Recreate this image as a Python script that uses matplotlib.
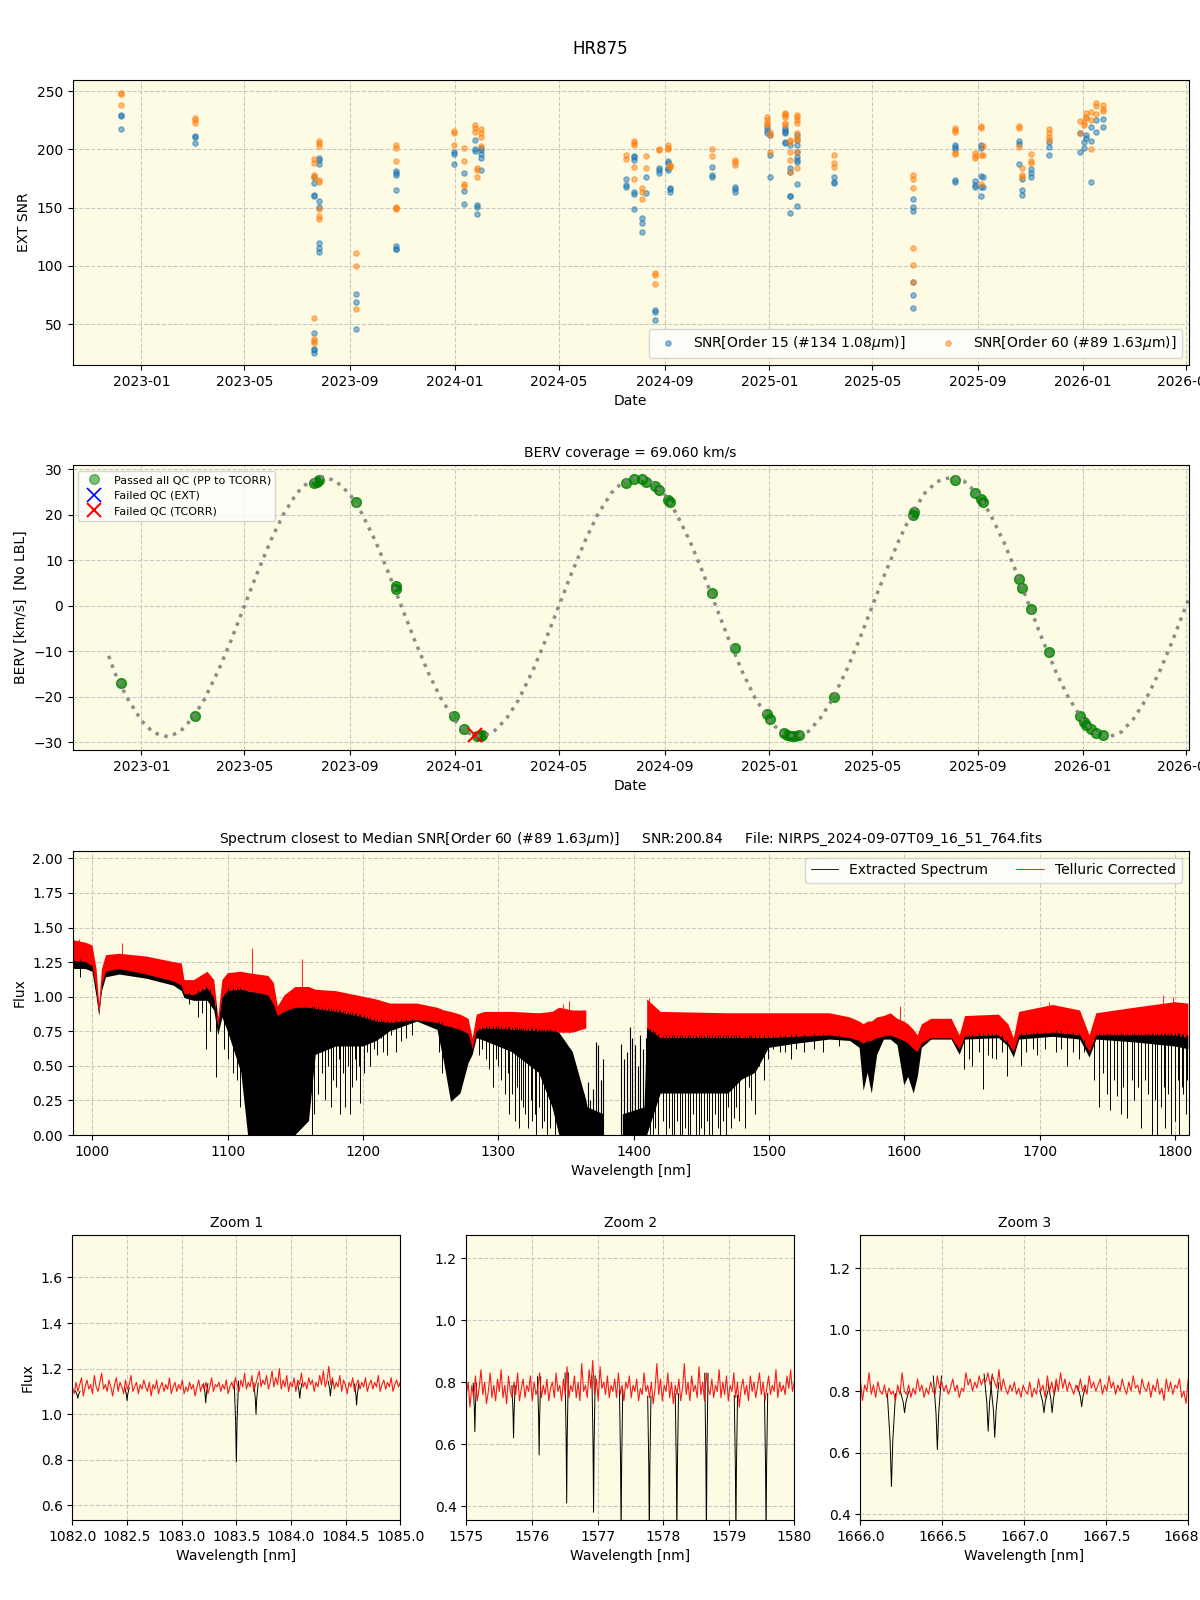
import numpy as np
import pandas as pd
import matplotlib
matplotlib.use('Agg')
import matplotlib.pyplot as plt
import matplotlib.dates as mdates
from matplotlib.lines import Line2D
from matplotlib.ticker import MultipleLocator

# ---------------- SNR per night ----------------
snr_nights = ['2022-12-08', '2023-03-05', '2023-07-21', '2023-07-27', '2023-09-08', '2023-10-25',
              '2023-12-31', '2024-01-12', '2024-01-24', '2024-01-27', '2024-01-31', '2024-07-18',
              '2024-07-28', '2024-08-06', '2024-08-10', '2024-08-21', '2024-08-25', '2024-09-05',
              '2024-09-07', '2024-10-26', '2024-11-22', '2024-12-29', '2025-01-02', '2025-01-19',
              '2025-01-25', '2025-02-02', '2025-03-17', '2025-06-17', '2025-08-05', '2025-08-28',
              '2025-09-04', '2025-09-07', '2025-10-19', '2025-10-22', '2025-11-01', '2025-11-23',
              '2025-12-29', '2026-01-02', '2026-01-04', '2026-01-10', '2026-01-16', '2026-01-24']

snr_o15 = [[229.4, 228.6, 217.1], [211.1, 210.4, 205.1],
           [175.9, 170.8, 160.5, 159.9, 42.0, 28.8, 25.4, 28.0],
           [192.5, 190.8, 187.3, 155.6, 150.7, 119.5, 115.2, 111.5],
           [76.3, 68.6, 45.5], [181.3, 179.3, 178.2, 164.7, 116.9, 114.9, 114.1],
           [197.9, 195.9, 187.1], [179.3, 163.9, 152.7], [207.7, 200.2, 198.5],
           [152.2, 150.7, 144.1], [201.4, 199.4, 195.6, 192.2, 182.2], [174.2, 169.3, 167.3],
           [194.2, 193.1, 190.8, 163.6, 161.6, 148.4], [141.0, 136.4, 129.5], [175.9, 162.2],
           [62.0, 60.6, 54.0], [183.6, 182.2, 179.9], [190.2, 188.5, 183.6, 182.2],
           [166.5, 165.6, 163.0], [184.5, 177.9, 175.9], [167.3, 165.6, 163.6],
           [219.4, 216.5, 213.7], [212.2, 195.1, 176.5], [218.0, 216.5, 215.1, 213.7, 206.5, 205.1],
           [203.7, 184.2, 180.8, 160.2, 159.9, 145.0],
           [212.2, 207.9, 203.7, 197.9, 193.6, 190.8, 189.3, 169.9, 151.3],
           [176.5, 171.6, 171.3], [157.0, 150.7, 147.0, 86.4, 74.6, 64.3],
           [203.7, 201.7, 200.2, 173.6, 172.2], [172.8, 169.3, 167.9],
           [203.7, 201.4, 177.0, 167.9, 159.9], [176.5, 167.3], [207.1, 204.5, 187.1],
           [174.2, 165.0, 160.5], [182.8, 179.3, 176.5], [206.5, 201.7, 194.8],
           [197.9, 213.7], [206.5, 200.8], [212.2, 209.4], [219.4, 207.1, 172.2],
           [225.1, 214.8], [226.0, 219.4]]

snr_o60 = [[248.6, 247.4, 237.7], [226.5, 225.1, 222.2],
           [191.3, 187.9, 177.6, 175.9, 55.7, 37.4, 35.7, 34.0],
           [207.1, 205.7, 202.8, 173.6, 171.9, 148.4, 143.0, 140.4],
           [110.7, 99.5, 62.6], [203.4, 201.1, 189.6, 150.7, 149.6, 148.4],
           [215.7, 214.2, 203.4], [200.8, 189.6, 169.9, 168.7], [220.8, 218.0, 214.8],
           [183.6, 182.2, 176.5], [217.4, 214.2, 210.8, 202.5], [194.8, 191.3],
           [207.1, 205.7, 203.7, 185.1, 174.5], [166.5, 163.0, 157.0], [194.2, 183.6],
           [93.5, 92.1, 84.1], [200.2, 199.4], [203.9, 201.4, 200.5],
           [186.8, 185.6, 184.5], [199.9, 194.2], [190.8, 189.3, 186.5],
           [227.4, 225.1, 222.8, 220.8], [215.1, 212.2, 197.9],
           [230.8, 230.0, 229.4, 228.0, 222.2, 220.8], [207.9, 206.5, 197.9, 190.8, 180.8],
           [229.4, 228.0, 225.1, 222.2, 213.7, 209.4, 207.9, 197.9, 183.6],
           [194.8, 188.5, 185.1], [177.9, 174.2, 166.5, 115.0, 100.4, 86.4],
           [218.0, 216.5, 215.1, 197.1, 196.0], [196.5, 194.2, 192.2],
           [220.0, 218.0, 195.1, 170.2], [202.8, 195.1], [220.0, 218.0, 202.2],
           [184.2, 177.9, 176.5], [195.6, 190.2, 187.9], [217.1, 213.7, 210.8, 207.9],
           [224.5, 213.7], [222.2, 220.8], [230.8, 228.0, 226.5], [232.3, 199.9, 225.1],
           [239.4, 237.1, 229.9], [238.0, 234.3, 232.6]]

# ---------------- BERV ----------------
berv_dates = ['2022-12-08', '2023-03-05', '2023-07-21', '2023-07-24', '2023-07-27', '2023-09-08',
              '2023-10-25', '2023-10-25', '2023-12-31', '2024-01-12', '2024-01-27', '2024-01-31',
              '2024-02-02', '2024-07-18', '2024-07-28', '2024-08-06', '2024-08-10', '2024-08-21',
              '2024-08-25', '2024-09-05', '2024-09-07', '2024-10-26', '2024-11-22', '2024-12-29',
              '2025-01-02', '2025-01-18', '2025-01-22', '2025-01-26', '2025-01-31', '2025-02-04',
              '2025-03-17', '2025-06-17', '2025-06-18', '2025-08-05', '2025-08-28', '2025-09-04',
              '2025-09-07', '2025-10-19', '2025-10-22', '2025-11-01', '2025-11-23', '2025-12-29',
              '2026-01-02', '2026-01-04', '2026-01-10', '2026-01-16', '2026-01-24']
berv_vals = [-17.0, -24.2, 27.0, 27.3, 27.6, 22.8, 4.4, 3.6, -24.2, -27.1, -28.6, -28.6, -28.5,
             26.9, 27.8, 27.8, 27.3, 26.3, 25.5, 23.3, 22.8, 2.9, -9.3, -23.8, -24.9, -28.0,
             -28.4, -28.6, -28.7, -28.5, -20.1, 20.0, 20.7, 27.6, 24.7, 23.4, 22.8, 5.8, 3.9,
             -0.7, -10.1, -24.2, -25.5, -26.2, -27.1, -27.9, -28.5]
fail_tcorr_dates = ['2024-01-24']
fail_tcorr_vals = [-28.4]

# BERV curve, one year of knots
curve_md = ['01-01', '01-15', '02-01', '02-15', '03-01', '03-15', '04-01', '04-15',
            '05-01', '05-15', '06-01', '06-15', '07-01', '07-15', '08-01', '08-15',
            '09-01', '09-15', '10-01', '10-15', '11-01', '11-15', '12-01', '12-15']
curve_year = [-25.2, -27.9, -28.8, -27.7, -24.8, -20.7, -14.1, -7.8, 0.0, 6.8, 14.5, 20.0,
              24.8, 27.3, 28.3, 27.5, 24.5, 20.2, 14.0, 7.6, -0.7, -7.5, -14.7, -20.1]
curve_start = ('2022-11-24', -11.0)
curve_end = ('2026-05-04', 1.4)

# ---------------- spectrum envelope knots ----------------
spec_wl = [985, 995, 1000, 1003, 1005, 1007, 1010, 1020, 1040, 1060, 1066, 1068, 1075, 1085, 1090,
           1093, 1096, 1100, 1110, 1115, 1130, 1134, 1137, 1142, 1150, 1160, 1165, 1180, 1200, 1210,
           1220, 1240, 1255, 1260, 1265, 1272, 1278, 1281, 1284, 1290, 1310, 1330, 1340, 1345, 1355,
           1365, 1366, 1378, 1379, 1391, 1392, 1408, 1410, 1420, 1470, 1480, 1490, 1500, 1520, 1545,
           1560, 1567, 1570, 1573, 1576, 1580, 1585, 1590, 1595, 1600, 1603, 1607, 1610, 1613, 1620,
           1635, 1641, 1645, 1670, 1677, 1681, 1685, 1710, 1730, 1737, 1742, 1770, 1800, 1810]
nan = np.nan
red_hi = [1.41, 1.39, 1.37, 1.20, 0.95, 1.20, 1.30, 1.31, 1.29, 1.25, 1.24, 1.12, 1.12, 1.18, 1.12,
          0.85, 1.12, 1.17, 1.18, 1.17, 1.15, 1.10, 0.93, 1.01, 1.07, 1.07, 1.05, 1.04, 1.00, 0.98,
          0.95, 0.95, 0.92, 0.90, 0.89, 0.87, 0.84, 0.70, 0.87, 0.89, 0.89, 0.88, 0.89, 0.92, 0.90,
          0.90, nan, nan, nan, nan, nan, nan, 0.98, 0.89, 0.88, 0.88, 0.88, 0.88, 0.88, 0.88,
          0.85, 0.82, 0.80, 0.82, 0.82, 0.85, 0.86, 0.88, 0.84, 0.82, 0.80, 0.76, 0.72, 0.80, 0.84,
          0.84, 0.72, 0.86, 0.87, 0.80, 0.70, 0.89, 0.94, 0.90, 0.72, 0.88, 0.92, 0.96, 0.95]
red_lo = [1.26, 1.25, 1.22, 1.05, 0.88, 1.08, 1.18, 1.20, 1.16, 1.11, 1.08, 1.02, 1.01, 1.06, 0.99,
          0.78, 0.99, 1.04, 1.05, 1.04, 1.01, 0.94, 0.86, 0.89, 0.92, 0.92, 0.91, 0.89, 0.85, 0.82,
          0.81, 0.83, 0.81, 0.79, 0.78, 0.76, 0.73, 0.62, 0.75, 0.77, 0.76, 0.75, 0.75, 0.74, 0.74,
          0.77, nan, nan, nan, nan, nan, nan, 0.77, 0.70, 0.70, 0.70, 0.70, 0.70, 0.71, 0.72,
          0.70, 0.68, 0.66, 0.68, 0.68, 0.70, 0.71, 0.72, 0.70, 0.68, 0.66, 0.62, 0.60, 0.66, 0.70,
          0.70, 0.62, 0.71, 0.72, 0.66, 0.60, 0.72, 0.74, 0.72, 0.60, 0.72, 0.72, 0.72, 0.70]
blk_hi = [1.28, 1.27, 1.24, 1.07, 0.90, 1.10, 1.20, 1.22, 1.18, 1.13, 1.10, 1.04, 1.03, 1.08, 1.01,
          0.80, 1.01, 1.06, 1.07, 1.04, 1.02, 0.96, 0.88, 0.91, 0.94, 0.94, 0.93, 0.91, 0.87, 0.84,
          0.83, 0.85, 0.83, 0.81, 0.80, 0.78, 0.75, 0.64, 0.77, 0.79, 0.78, 0.77, 0.77, 0.74, 0.60,
          0.25, 0.20, 0.15, nan, nan, 0.15, 0.20, 0.78, 0.72, 0.72, 0.72, 0.72, 0.72, 0.73, 0.74,
          0.72, 0.70, 0.68, 0.70, 0.70, 0.72, 0.73, 0.74, 0.72, 0.70, 0.68, 0.64, 0.62, 0.68, 0.72,
          0.72, 0.64, 0.73, 0.74, 0.68, 0.62, 0.74, 0.76, 0.74, 0.62, 0.74, 0.74, 0.74, 0.72]
blk_lo = [1.20, 1.20, 1.18, 1.00, 0.86, 1.04, 1.14, 1.16, 1.13, 1.08, 1.04, 0.99, 0.97, 0.97, 0.90,
          0.72, 0.85, 0.75, 0.45, 0.00, 0.00, 0.00, 0.00, 0.00, 0.00, 0.10, 0.58, 0.64, 0.64, 0.68,
          0.75, 0.82, 0.76, 0.52, 0.24, 0.30, 0.52, 0.58, 0.70, 0.68, 0.60, 0.45, 0.20, 0.00, 0.00,
          0.00, 0.00, 0.00, nan, nan, 0.00, 0.00, 0.00, 0.30, 0.30, 0.40, 0.45, 0.63, 0.66, 0.69,
          0.68, 0.63, 0.32, 0.45, 0.30, 0.58, 0.69, 0.69, 0.65, 0.36, 0.42, 0.30, 0.42, 0.63, 0.69,
          0.69, 0.58, 0.69, 0.70, 0.64, 0.56, 0.69, 0.71, 0.69, 0.56, 0.69, 0.67, 0.64, 0.62]

# upward spikes of the corrected spectrum
red_spike_wl = [990, 1022, 1118, 1155, 1348, 1352, 1411, 1597, 1707, 1791, 1799]
red_spike_hi = [1.42, 1.39, 1.35, 1.27, 0.95, 0.97, 0.99, 0.93, 0.96, 1.01, 1.00]

# extracted spectrum in the gaps of the corrected one
blk_up_wl = [1347, 1350, 1353, 1356, 1358, 1361, 1363, 1366, 1368, 1370, 1372, 1374, 1376, 1377,
             1391, 1393, 1395, 1397, 1399, 1401, 1403, 1405, 1407, 1409]
blk_up_hi = [0.62, 0.55, 0.60, 0.50, 0.45, 0.35, 0.30, 0.38, 0.25, 0.33, 0.67, 0.65, 0.40, 0.55,
             0.66, 0.55, 0.60, 0.78, 0.70, 0.65, 0.50, 0.72, 0.62, 0.70]

# individual telluric / stellar lines in the extracted spectrum
line_wl = [991, 1071, 1078, 1081, 1084, 1087, 1091, 1097, 1100, 1104, 1107, 1109,
           1162, 1164, 1167, 1170, 1172, 1174, 1176, 1178, 1180, 1182, 1183, 1185, 1187, 1189, 1190,
           1192, 1194, 1195, 1197, 1198, 1201, 1203, 1205, 1208, 1210, 1213, 1215, 1218, 1221, 1224,
           1228, 1232, 1236, 1256, 1258,
           1286, 1288, 1291, 1293, 1296, 1298, 1300, 1302, 1305, 1307, 1308, 1310, 1312, 1314, 1315,
           1317, 1318, 1320, 1322, 1324, 1325, 1327, 1328, 1330, 1332, 1334, 1336, 1338, 1342,
           1412, 1414, 1416, 1418, 1422, 1424, 1426, 1428, 1430, 1432, 1434, 1436, 1438, 1440, 1442,
           1444, 1446, 1448, 1450, 1452, 1454, 1456, 1458, 1460, 1462, 1464, 1466, 1468, 1470, 1472,
           1474, 1476, 1478, 1482, 1485, 1487, 1490, 1493, 1496, 1499,
           1503, 1508, 1512, 1516, 1520, 1526, 1533, 1540, 1552,
           1644, 1648, 1650, 1655, 1658, 1662, 1665, 1668, 1672, 1676, 1686, 1690, 1695, 1698, 1704,
           1712, 1716, 1720, 1725, 1729, 1733, 1740, 1744, 1747, 1750, 1752, 1755, 1757, 1760, 1762,
           1765, 1768, 1770, 1773, 1775, 1778, 1780, 1783, 1785, 1787, 1790, 1792, 1793, 1795, 1797,
           1800, 1802, 1803, 1805, 1806, 1808, 1809]
line_lo = [1.14, 0.95, 0.85, 0.88, 0.62, 0.75, 0.42, 0.62, 0.55, 0.45, 0.40, 0.20,
           0.00, 0.15, 0.30, 0.45, 0.25, 0.50, 0.20, 0.40, 0.35, 0.55, 0.15, 0.45, 0.20, 0.50, 0.15,
           0.35, 0.55, 0.40, 0.50, 0.23, 0.45, 0.60, 0.50, 0.62, 0.58, 0.70, 0.60, 0.58, 0.72, 0.60,
           0.68, 0.70, 0.72, 0.60, 0.45,
           0.58, 0.62, 0.55, 0.48, 0.35, 0.55, 0.50, 0.40, 0.30, 0.45, 0.15, 0.30, 0.10, 0.35, 0.05,
           0.25, 0.20, 0.15, 0.05, 0.25, 0.10, 0.15, 0.00, 0.20, 0.05, 0.10, 0.00, 0.05, 0.00,
           0.00, 0.00, 0.05, 0.00, 0.10, 0.00, 0.05, 0.00, 0.00, 0.10, 0.00, 0.00, 0.05, 0.00, 0.00,
           0.15, 0.00, 0.00, 0.05, 0.00, 0.10, 0.00, 0.00, 0.15, 0.05, 0.00, 0.10, 0.00, 0.20, 0.05,
           0.12, 0.20, 0.10, 0.05, 0.35, 0.25, 0.15, 0.50, 0.40, 0.55,
           0.62, 0.60, 0.60, 0.55, 0.62, 0.60, 0.62, 0.60, 0.64,
           0.48, 0.55, 0.50, 0.60, 0.33, 0.58, 0.56, 0.55, 0.60, 0.43, 0.50, 0.60, 0.62, 0.58, 0.62,
           0.60, 0.62, 0.50, 0.60, 0.55, 0.60, 0.40, 0.20, 0.45, 0.30, 0.18, 0.40, 0.28, 0.15, 0.35,
           0.12, 0.40, 0.25, 0.35, 0.05, 0.40, 0.30, 0.00, 0.25, 0.00, 0.20, 0.35, 0.05, 0.30, 0.00,
           0.10, 0.40, 0.00, 0.35, 0.30, 0.15, 0.40]

# ---------------- zoom windows ----------------
zoom1_red = [1.12, 1.09, 1.14, 1.10, 1.13, 1.16, 1.08, 1.12, 1.15, 1.11, 1.13, 1.09, 1.17, 1.12, 1.10,
             1.14, 1.18, 1.11, 1.13, 1.10, 1.15, 1.12, 1.08, 1.13, 1.16, 1.10, 1.14, 1.12, 1.09, 1.15,
             1.11, 1.13, 1.17, 1.10, 1.12, 1.14, 1.09, 1.13, 1.11, 1.15, 1.12, 1.10, 1.14, 1.08, 1.13,
             1.11, 1.15, 1.09, 1.12, 1.14, 1.10, 1.13, 1.11, 1.16, 1.09, 1.12, 1.14, 1.10, 1.13, 1.11,
             1.15, 1.09, 1.12, 1.10, 1.14, 1.11, 1.13, 1.08, 1.12, 1.15, 1.10, 1.13, 1.11, 1.14, 1.09,
             1.12, 1.16, 1.10, 1.13, 1.12, 1.14, 1.10, 1.13, 1.11, 1.15, 1.09, 1.12, 1.14, 1.11, 1.16,
             1.13, 1.10, 1.15, 1.12, 1.18, 1.11, 1.14, 1.12, 1.17, 1.10, 1.13, 1.16, 1.19, 1.12, 1.15,
             1.13, 1.17, 1.11, 1.14, 1.19, 1.12, 1.16, 1.13, 1.20, 1.11, 1.15, 1.12, 1.17, 1.10, 1.14,
             1.12, 1.16, 1.10, 1.15, 1.13, 1.18, 1.12, 1.14, 1.11, 1.16, 1.13, 1.15, 1.10, 1.14, 1.12,
             1.17, 1.13, 1.19, 1.12, 1.15, 1.21, 1.13, 1.16, 1.11, 1.14, 1.12, 1.17, 1.10, 1.15, 1.13,
             1.09, 1.14, 1.12, 1.16, 1.10, 1.13, 1.15, 1.11, 1.14, 1.12, 1.16, 1.10, 1.13, 1.15, 1.11,
             1.14, 1.12, 1.17, 1.10, 1.13, 1.15, 1.11, 1.14, 1.12, 1.16, 1.10, 1.13, 1.15, 1.12, 1.14]
zoom1_lines = [1082.05, 1082.50, 1083.22, 1083.50, 1083.68, 1084.08, 1084.36, 1084.60]
zoom1_depth = [1.07, 1.06, 1.05, 0.79, 1.00, 1.07, 1.08, 1.04]

zoom2_red = [0.76, 0.80, 0.72, 0.79, 0.75, 0.82, 0.74, 0.78, 0.84, 0.76, 0.80, 0.73, 0.77, 0.83, 0.75,
             0.79, 0.74, 0.81, 0.77, 0.84, 0.75, 0.79, 0.73, 0.82, 0.77, 0.75, 0.80, 0.76, 0.83, 0.74,
             0.78, 0.81, 0.75, 0.79, 0.77, 0.82, 0.74, 0.80, 0.76, 0.78, 0.83, 0.75, 0.79, 0.76, 0.81,
             0.74, 0.78, 0.80, 0.75, 0.83, 0.77, 0.79, 0.74, 0.81, 0.76, 0.85, 0.75, 0.79, 0.77, 0.82,
             0.75, 0.80, 0.74, 0.86, 0.77, 0.79, 0.75, 0.84, 0.78, 0.87, 0.76, 0.81, 0.74, 0.85, 0.78,
             0.80, 0.76, 0.82, 0.75, 0.79, 0.77, 0.81, 0.75, 0.83, 0.76, 0.79, 0.74, 0.80, 0.78, 0.82,
             0.75, 0.79, 0.77, 0.81, 0.74, 0.78, 0.76, 0.83, 0.77, 0.79, 0.75, 0.80, 0.73, 0.78, 0.86,
             0.76, 0.81, 0.74, 0.79, 0.77, 0.83, 0.75, 0.80, 0.73, 0.79, 0.76, 0.81, 0.74, 0.78, 0.86,
             0.76, 0.80, 0.74, 0.82, 0.77, 0.79, 0.75, 0.85, 0.76, 0.80, 0.74, 0.83, 0.78, 0.76, 0.81,
             0.75, 0.79, 0.77, 0.84, 0.75, 0.80, 0.76, 0.82, 0.74, 0.79, 0.77, 0.83, 0.75, 0.80, 0.72,
             0.78, 0.81, 0.76, 0.79, 0.74, 0.82, 0.77, 0.80, 0.75, 0.79, 0.83, 0.76, 0.80, 0.74, 0.78,
             0.82, 0.76, 0.79, 0.77, 0.84, 0.75, 0.80, 0.77, 0.79, 0.76, 0.82, 0.78, 0.84, 0.77, 0.80]
zoom2_lines = [1575.13, 1575.72, 1576.11, 1576.53, 1576.94, 1577.36, 1577.79, 1578.21, 1578.66,
               1579.11, 1579.57]
zoom2_depth = [0.64, 0.62, 0.565, 0.41, 0.38, 0.30, 0.30, 0.30, 0.30, 0.30, 0.30]

zoom3_red = [0.84, 0.77, 0.82, 0.80, 0.86, 0.79, 0.82, 0.78, 0.83, 0.80, 0.79, 0.82, 0.78, 0.81, 0.79,
             0.80, 0.77, 0.82, 0.79, 0.86, 0.80, 0.79, 0.82, 0.78, 0.81, 0.79, 0.84, 0.80, 0.82, 0.78,
             0.81, 0.79, 0.83, 0.80, 0.79, 0.85, 0.81, 0.83, 0.80, 0.82, 0.79, 0.81, 0.84, 0.80, 0.82,
             0.78, 0.81, 0.80, 0.86, 0.82, 0.84, 0.80, 0.83, 0.81, 0.85, 0.82, 0.84, 0.83, 0.86, 0.82,
             0.85, 0.83, 0.81, 0.87, 0.80, 0.84, 0.81, 0.79, 0.82, 0.80, 0.83, 0.79, 0.81, 0.78, 0.82,
             0.80, 0.79, 0.83, 0.78, 0.81, 0.79, 0.84, 0.80, 0.82, 0.78, 0.85, 0.80, 0.83, 0.79, 0.84,
             0.80, 0.86, 0.81, 0.84, 0.80, 0.83, 0.81, 0.79, 0.82, 0.80, 0.84, 0.80, 0.82, 0.79, 0.85,
             0.81, 0.83, 0.80, 0.82, 0.84, 0.79, 0.82, 0.80, 0.85, 0.81, 0.83, 0.79, 0.82, 0.80, 0.84,
             0.81, 0.79, 0.83, 0.80, 0.85, 0.81, 0.82, 0.79, 0.84, 0.81, 0.80, 0.83, 0.78, 0.82, 0.80,
             0.84, 0.79, 0.81, 0.77, 0.84, 0.80, 0.83, 0.79, 0.82, 0.81, 0.84, 0.78, 0.80, 0.76, 0.84]
zoom3_lines = [1666.19, 1666.27, 1666.47, 1666.78, 1666.82, 1667.12, 1667.17, 1667.35]
zoom3_depth = [0.49, 0.73, 0.61, 0.67, 0.65, 0.73, 0.73, 0.75]

BG = '#fdfbe3'


def style(ax):
    ax.set_facecolor(BG)
    ax.set_axisbelow(True)
    ax.grid(True, ls='--', color='#c8c8c8', lw=0.8)


fig = plt.figure(figsize=(12, 16), dpi=100)
fig.suptitle('HR875', y=0.975, fontsize=12)

date_lim = (pd.Timestamp('2022-10-13'), pd.Timestamp('2026-05-04'))

# ---- panel 1: SNR ----
ax1 = fig.add_axes([0.0605, 0.7719, 0.930, 0.1781])
style(ax1)
x15 = [pd.Timestamp(d) for d, v in zip(snr_nights, snr_o15) for _ in v]
y15 = [s for v in snr_o15 for s in v]
x60 = [pd.Timestamp(d) for d, v in zip(snr_nights, snr_o60) for _ in v]
y60 = [s for v in snr_o60 for s in v]
ax1.plot(x15, y15, 'o', color='tab:blue', ms=3.8, alpha=0.5, ls='none',
         label=r'SNR[Order 15 (#134 1.08$\mu$m)]')
ax1.plot(x60, y60, 'o', color='tab:orange', ms=3.8, alpha=0.5, ls='none',
         label=r'SNR[Order 60 (#89 1.63$\mu$m)]')
ax1.set_xlim(date_lim)
ax1.set_ylim(15, 259.5)
ax1.set_xlabel('Date')
ax1.set_ylabel('EXT SNR')
ax1.legend(loc='lower right', ncol=2)

# ---- panel 2: BERV ----
ax2 = fig.add_axes([0.0605, 0.53125, 0.930, 0.1781])
style(ax2)
bd = pd.to_datetime(berv_dates)
ax2.plot(bd, berv_vals, 'o', color='green', ms=7, alpha=0.5, ls='none',
         label='Passed all QC (PP to TCORR)')
ax2.plot(bd, berv_vals, 'o', color='green', ms=7, alpha=0.5, ls='none')
ax2.plot([], [], 'x', color='blue', ms=10, mew=1.2, label='Failed QC (EXT)')
ax2.plot(pd.to_datetime(fail_tcorr_dates), fail_tcorr_vals, 'x', color='red', ms=10, mew=1.5,
         ls='none', label='Failed QC (TCORR)')
c_dates = [curve_start[0]] + ['2022-' + m for m in curve_md[22:]]
c_vals = [curve_start[1]] + curve_year[22:]
for yr in (2023, 2024, 2025):
    c_dates += ['%d-%s' % (yr, m) for m in curve_md]
    c_vals += curve_year
c_dates += ['2026-' + m for m in curve_md[:9]] + [curve_end[0]]
c_vals += curve_year[:9] + [curve_end[1]]
ax2.plot(pd.to_datetime(c_dates), c_vals, ls=':', color='grey', lw=2.5, alpha=0.9)
ax2.set_xlim(date_lim)
ax2.set_ylim(-31.7, 30.95)
ax2.set_xlabel('Date')
ax2.set_ylabel('BERV [km/s]  [No LBL]')
ax2.set_title('BERV coverage = 69.060 km/s', fontsize=10)
ax2.legend(loc='upper left', fontsize=8)

for ax in (ax1, ax2):
    ax.xaxis.set_major_locator(mdates.MonthLocator(bymonth=[1, 5, 9]))
    ax.xaxis.set_major_formatter(mdates.DateFormatter('%Y-%m'))

# ---- panel 3: full spectrum ----
ax3 = fig.add_axes([0.0605, 0.2906, 0.930, 0.1777])
style(ax3)
ax3.fill_between(spec_wl, blk_lo, blk_hi, color='black', lw=0)
tops = np.interp(line_wl, spec_wl, np.nan_to_num(blk_hi, nan=0.4))
ax3.vlines(line_wl, line_lo, tops, color='black', lw=0.7)
ax3.vlines(blk_up_wl, 0, blk_up_hi, color='black', lw=0.8)
ax3.fill_between(spec_wl, red_lo, red_hi, color='red', lw=0)
spike_base = np.interp(red_spike_wl, spec_wl, np.nan_to_num(red_lo, nan=0.8))
ax3.vlines(red_spike_wl, spike_base, red_spike_hi, color='red', lw=0.8, alpha=0.8)
ax3.set_xlim(985.3, 1810.2)
ax3.set_ylim(0, 2.055)
ax3.set_xlabel('Wavelength [nm]')
ax3.set_ylabel('Flux')
ax3.set_title(r'Spectrum closest to Median SNR[Order 60 (#89 1.63$\mu$m)]     SNR:200.84     '
              'File: NIRPS_2024-09-07T09_16_51_764.fits', fontsize=10)
ax3.legend(handles=[Line2D([], [], color='black', lw=0.6, label='Extracted Spectrum'),
                    Line2D([], [], color='red', lw=0.6, label='Telluric Corrected')],
           loc='upper right', ncol=2)

# ---- zoom panels ----
zooms = [
    (0.0603, 'Zoom 1', (1082, 1085), (0.536, 1.786), zoom1_red, zoom1_lines, zoom1_depth, 0.02, 0.5),
    (0.3886, 'Zoom 2', (1575, 1580), (0.355, 1.275), zoom2_red, zoom2_lines, zoom2_depth, 0.025, 1.0),
    (0.7169, 'Zoom 3', (1666, 1668), (0.381, 1.308), zoom3_red, zoom3_lines, zoom3_depth, 0.025, 0.5),
]
for i, (left, title, xl, yl, red, lines, depth, hw, step) in enumerate(zooms):
    ax = fig.add_axes([left, 0.05, 0.2733, 0.1781])
    style(ax)
    wl = np.linspace(xl[0], xl[1], len(red))
    base = np.interp(lines, wl, red)
    for c, d, b in zip(lines, depth, base):
        ax.plot([c - hw, c - hw / 3, c, c + hw / 3, c + hw], [b, (b + d) / 2, d, (b + d) / 2, b],
                color='black', lw=0.7)
    ax.plot(wl, red, color='red', lw=0.8, alpha=0.9)
    ax.set_xlim(xl)
    ax.set_ylim(yl)
    ax.xaxis.set_major_locator(MultipleLocator(step))
    ax.set_title(title, fontsize=10)
    ax.set_xlabel('Wavelength [nm]')
    if i == 0:
        ax.set_ylabel('Flux')

fig.savefig('out.png', dpi=100)
